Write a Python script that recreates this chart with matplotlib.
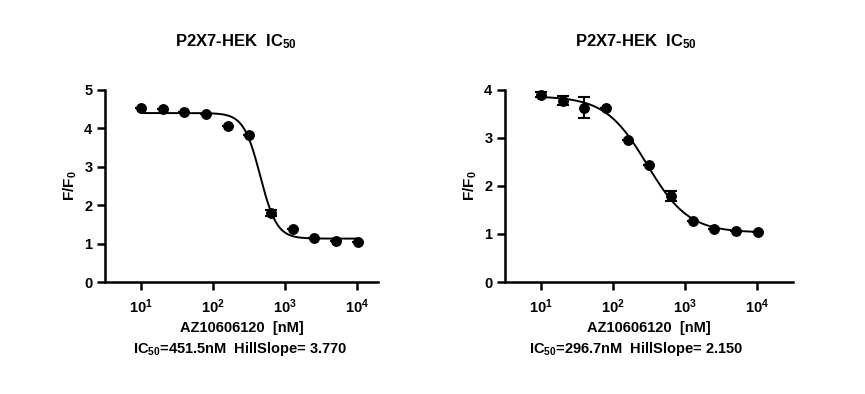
import numpy as np
import matplotlib
matplotlib.use("Agg")
import matplotlib.pyplot as plt
from matplotlib.ticker import FixedLocator, NullLocator

plt.rcParams['font.family'] = ['Liberation Sans', 'DejaVu Sans']
plt.rcParams['font.weight'] = 'bold'
plt.rcParams['mathtext.fontset'] = 'custom'
plt.rcParams['mathtext.rm'] = 'Liberation Sans:bold'
plt.rcParams['mathtext.it'] = 'Liberation Sans:bold'
plt.rcParams['mathtext.bf'] = 'Liberation Sans:bold'

# concentrations in nM (two-fold dilution)
conc = [10, 20, 40, 80, 160, 320, 640, 1280, 2560, 5120, 10240]

left_y = [4.52, 4.50, 4.44, 4.37, 4.06, 3.84, 1.80, 1.38, 1.15, 1.08, 1.05]
left_err = [0, 0, 0, 0, 0, 0, 0.08, 0, 0, 0, 0]
left_fit = dict(top=4.40, bottom=1.13, ic50=451.5, hill=3.77)

right_y = [3.90, 3.78, 3.63, 3.62, 2.96, 2.44, 1.79, 1.27, 1.11, 1.06, 1.04]
right_err = [0.05, 0.10, 0.22, 0, 0, 0, 0.10, 0, 0, 0, 0]
right_fit = dict(top=3.87, bottom=1.03, ic50=296.7, hill=1.5)

xticks = [10, 100, 1000, 10000]
xticklabels = [r'$10^{1}$', r'$10^{2}$', r'$10^{3}$', r'$10^{4}$']

W, H = 865, 394
fig = plt.figure(figsize=(W / 100, H / 100), dpi=100)


def hill(x, top, bottom, ic50, hill):
    return bottom + (top - bottom) / (1 + (x / ic50) ** hill)


def panel(x0, x1, y_vals, errs, fit, ymax, xmax, title, title_x, note, note_x):
    ax = fig.add_axes([x0 / W, (H - 282) / H, (x1 - x0) / W, 192 / H])
    xs = np.logspace(1, 4, 300)
    ax.plot(xs, hill(xs, **fit), color='black', lw=1.4)
    ax.errorbar(conc, y_vals, yerr=errs, fmt='o', color='black', ms=6.8,
                capsize=4, capthick=1.5, elinewidth=1.5)
    ax.set_xscale('log')
    ax.set_xlim(10 ** 0.5, xmax)
    ax.set_ylim(0, ymax)
    ax.xaxis.set_major_locator(FixedLocator(xticks))
    ax.xaxis.set_minor_locator(NullLocator())
    ax.set_xticklabels(xticklabels)
    ax.set_yticks(range(0, ymax + 1))
    for s in ['top', 'right']:
        ax.spines[s].set_visible(False)
    for s in ['left', 'bottom']:
        ax.spines[s].set_linewidth(1.8)
    ax.tick_params(axis='both', width=1.8, length=6, direction='out')
    ax.tick_params(axis='x', labelsize=10.5, pad=5)
    ax.tick_params(axis='y', labelsize=10.5, pad=3)
    ax.set_ylabel(r'F/F$_0$', fontsize=11, fontweight='bold', labelpad=4)
    ax.set_xlabel('AZ10606120  [nM]', fontsize=10.5, fontweight='bold', labelpad=4)
    fig.text(title_x / W, 1 - 42 / H, title, ha='center', va='center',
             fontsize=12, fontweight='bold')
    fig.text(note_x / W, 1 - 349 / H, note, ha='center', va='center',
             fontsize=10.5, fontweight='bold')
    return ax


panel(105, 378, left_y, left_err, left_fit, 5, 10 ** 4.29,
      r'P2X7-HEK  IC$_{50}$', 236,
      r'IC$_{50}$=451.5nM  HillSlope= 3.770', 240)
panel(505, 793, right_y, right_err, right_fit, 4, 10 ** 4.5,
      r'P2X7-HEK  IC$_{50}$', 636,
      r'IC$_{50}$=296.7nM  HillSlope= 2.150', 636)

fig.savefig('out.png', dpi=100)
